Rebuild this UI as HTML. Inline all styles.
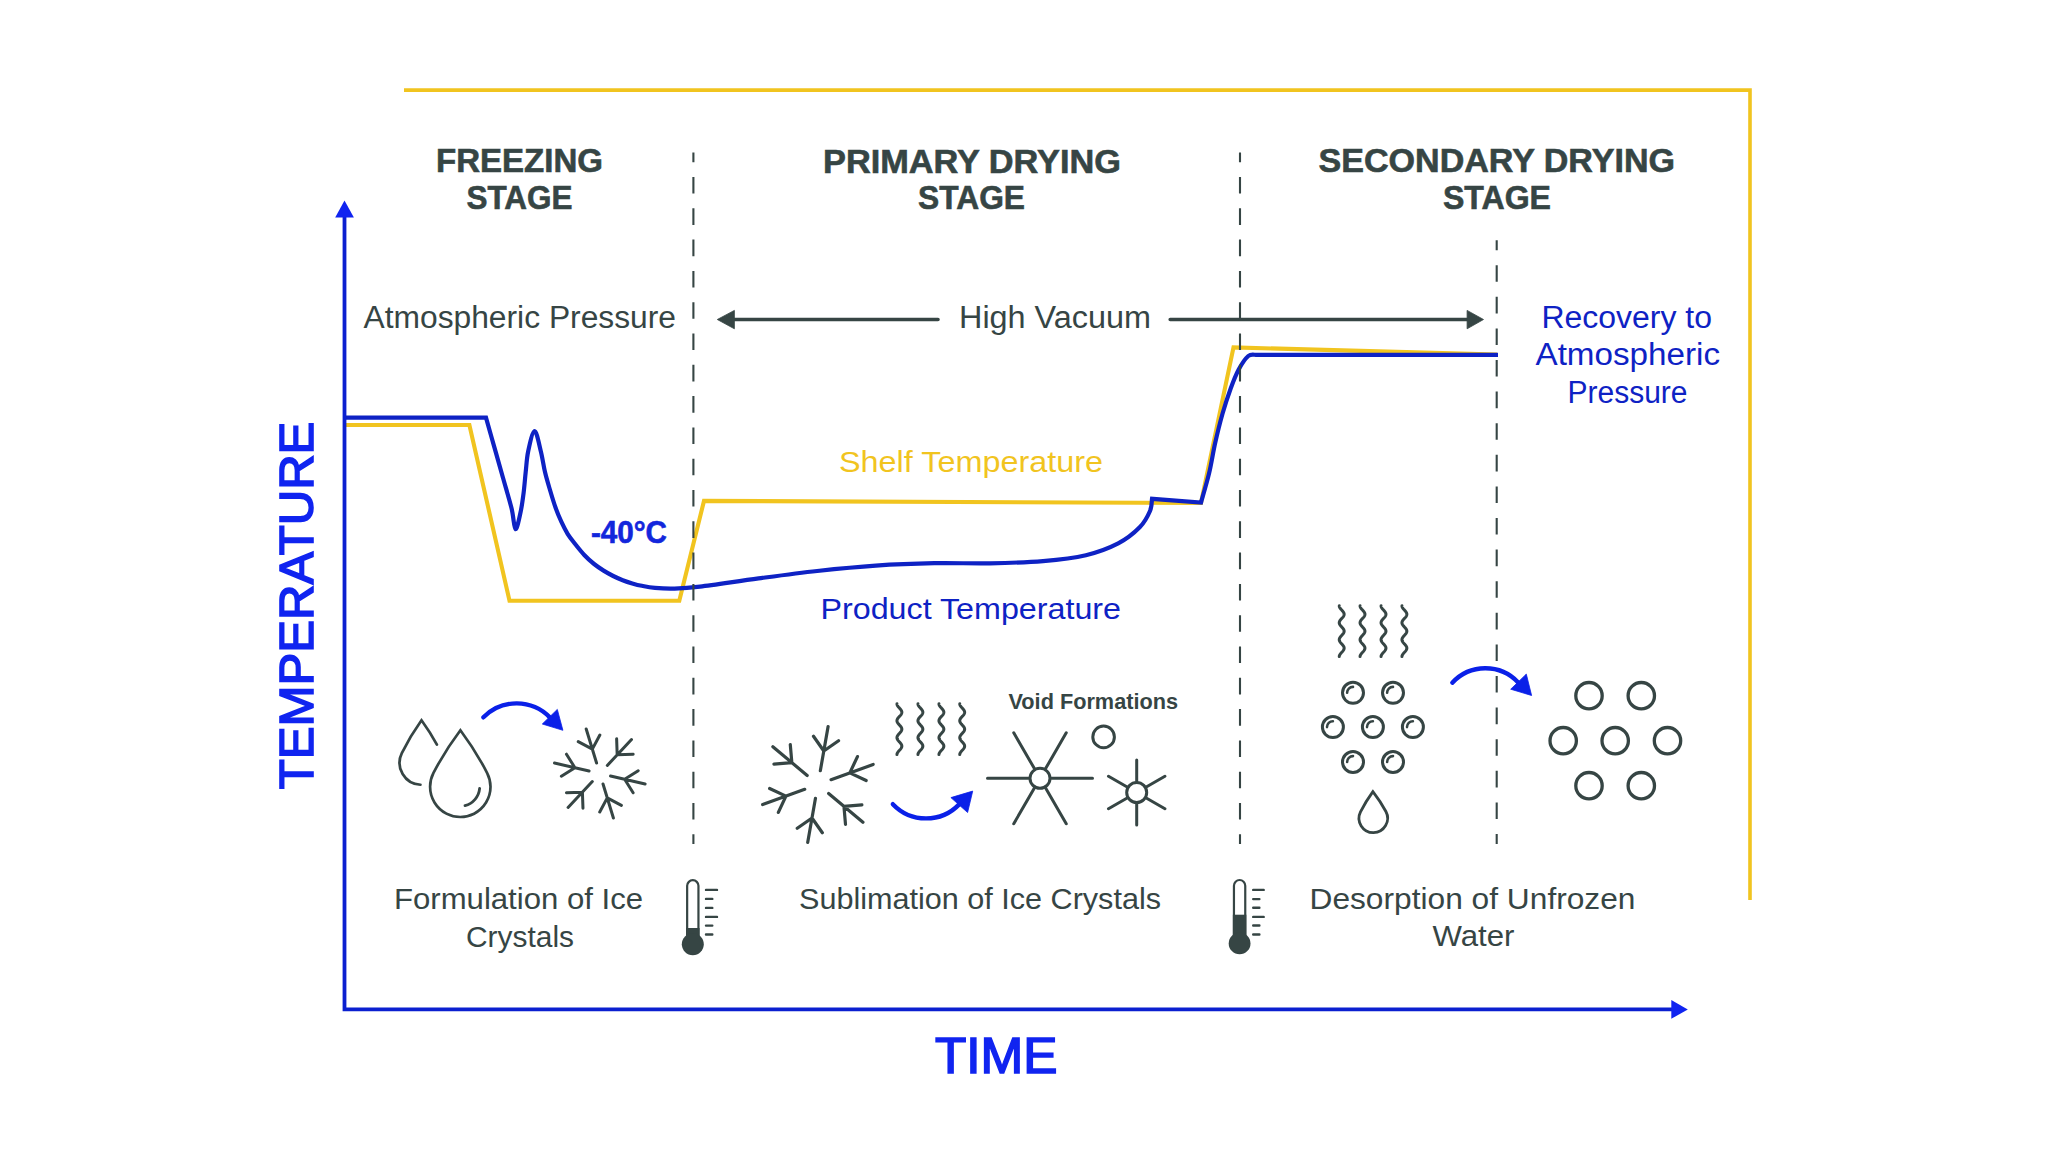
<!DOCTYPE html>
<html><head><meta charset="utf-8"><title>Freeze Drying Stages</title>
<style>html,body{margin:0;padding:0;background:#fff;}svg{display:block;font-family:"Liberation Sans",sans-serif;}</style>
</head><body>
<svg width="2048" height="1152" viewBox="0 0 2048 1152" font-family="Liberation Sans, sans-serif">
<rect width="2048" height="1152" fill="#fff"/>
<path d="M404 90.1H1750V900" stroke="#f1c41f" stroke-width="3.6" fill="none"/><path d="M346 425H469.4L509.5 600.7H679.3L704 500.9L1201 503L1233.5 347.4L1497 354.6" stroke="#f1c41f" stroke-width="4.1" fill="none" stroke-linejoin="miter"/><path d="M344 417.6H486C487.40 422.57 491.58 437.42 494.4 447.4C497.22 457.38 500.03 467.32 502.9 477.5C505.77 487.68 509.50 499.88 511.6 508.5C513.70 517.12 514.00 528.62 515.5 529.2C517.00 529.78 519.25 518.05 520.6 512C521.95 505.95 522.75 499.55 523.6 492.9C524.45 486.25 524.93 479.04 525.7 472.1C526.47 465.16 526.72 458.07 528.2 451.25C529.68 444.43 532.50 431.20 534.6 431.2C536.70 431.20 539.07 444.43 540.8 451.25C542.53 458.07 543.47 465.64 545.0 472.1C546.53 478.56 548.23 484.05 550.0 490C551.77 495.95 553.72 502.52 555.6 507.8C557.48 513.08 559.30 517.37 561.3 521.7C563.30 526.03 565.32 530.12 567.6 533.8C569.88 537.48 572.18 540.23 575 543.8C577.82 547.37 581.32 551.83 584.5 555.2C587.68 558.57 590.92 561.43 594.1 564.0C597.28 566.57 600.42 568.60 603.6 570.6C606.78 572.60 610.02 574.40 613.2 576.0C616.38 577.60 619.52 578.97 622.7 580.2C625.88 581.43 629.12 582.47 632.3 583.4C635.48 584.33 638.02 585.05 641.8 585.8C645.58 586.55 649.68 587.43 655 587.9C660.32 588.37 666.20 588.82 673.7 588.6C681.20 588.38 685.85 588.30 700 586.6C714.15 584.90 739.07 581.00 758.6 578.4C778.13 575.80 797.67 573.13 817.2 571C836.73 568.87 856.27 566.90 875.8 565.6C895.33 564.30 915.37 563.58 934.4 563.2C953.43 562.82 971.90 563.65 990 563.3C1008.10 562.95 1027.02 562.45 1043 561.1C1058.98 559.75 1073.37 558.15 1085.9 555.2C1098.43 552.25 1109.23 548.05 1118.2 543.4C1127.17 538.75 1134.40 532.70 1139.7 527.3C1145.00 521.90 1147.95 515.75 1150 511C1152.05 506.25 1151.67 500.83 1152 498.8L1201 502.6C1202.37 497.63 1206.85 482.68 1209.2 472.8C1211.55 462.92 1212.88 453.13 1215.1 443.3C1217.32 433.47 1219.92 422.90 1222.5 413.8C1225.08 404.70 1227.90 396.08 1230.6 388.7C1233.30 381.32 1235.75 374.95 1238.7 369.5C1241.65 364.05 1245.42 358.45 1248.3 356C1251.18 353.55 1254.72 355.00 1256 354.8H1498" stroke="#0e22c4" stroke-width="4.2" fill="none" stroke-linejoin="miter"/><path d="M693.4 152.50V162.30M693.4 177.00V193.60M693.4 208.30V224.90M693.4 239.60V256.20M693.4 270.90V287.50M693.4 302.20V318.80M693.4 333.50V350.10M693.4 364.80V381.40M693.4 396.10V412.70M693.4 427.40V444.00M693.4 458.70V475.30M693.4 490.00V506.60M693.4 521.30V537.90M693.4 552.60V569.20M693.4 583.90V600.50M693.4 615.20V631.80M693.4 646.50V663.10M693.4 677.80V694.40M693.4 709.10V725.70M693.4 740.40V757.00M693.4 771.70V788.30M693.4 803.00V819.60M693.4 834.30V844.00" stroke="#364544" stroke-width="2.1" fill="none"/><path d="M1240.0 152.50V162.30M1240.0 177.00V193.60M1240.0 208.30V224.90M1240.0 239.60V256.20M1240.0 270.90V287.50M1240.0 302.20V318.80M1240.0 333.50V350.10M1240.0 364.80V381.40M1240.0 396.10V412.70M1240.0 427.40V444.00M1240.0 458.70V475.30M1240.0 490.00V506.60M1240.0 521.30V537.90M1240.0 552.60V569.20M1240.0 583.90V600.50M1240.0 615.20V631.80M1240.0 646.50V663.10M1240.0 677.80V694.40M1240.0 709.10V725.70M1240.0 740.40V757.00M1240.0 771.70V788.30M1240.0 803.00V819.60M1240.0 834.30V844.00" stroke="#364544" stroke-width="2.1" fill="none"/><path d="M1496.7 240.30V250.20M1496.7 265.20V281.80M1496.7 296.80V313.40M1496.7 328.40V345.00M1496.7 360.00V376.60M1496.7 391.60V408.20M1496.7 423.20V439.80M1496.7 454.80V471.40M1496.7 486.40V503.00M1496.7 518.00V534.60M1496.7 549.60V566.20M1496.7 581.20V597.80M1496.7 612.80V629.40M1496.7 644.40V661.00M1496.7 676.00V692.60M1496.7 707.60V724.20M1496.7 739.20V755.80M1496.7 770.80V787.40M1496.7 802.40V819.00M1496.7 834.00V844.00" stroke="#364544" stroke-width="2.1" fill="none"/><path d="M344.5 216V1009.4H1672" stroke="#0b20d0" stroke-width="3.8" fill="none" stroke-linejoin="miter"/><path d="M344.5 200.4L335.2 217.4H353.9Z" fill="#1024f0"/><path d="M1687.8 1009.4L1671.3 1000V1018.8Z" fill="#1024f0"/><path d="M732 319.5H938M1170.2 319.5H1469" stroke="#364544" stroke-width="3.6" fill="none" stroke-linecap="round"/><path d="M717.3 319.5L734.4 310.4V328.8Z" fill="#364544" stroke="#364544" stroke-width="0.8" stroke-linejoin="round"/><path d="M1483.5 319.5L1467.1 310.4V328.8Z" fill="#364544" stroke="#364544" stroke-width="0.8" stroke-linejoin="round"/><path d="M687.15 939.2V885.85A5.65 5.65 0 0 1 698.4499999999999 885.85V939.2" stroke="#364544" stroke-width="2.2" fill="none"/><rect x="686.05" y="928" width="13.5" height="16.200000000000045" fill="#364544"/><circle cx="692.8" cy="944.2" r="11.0" fill="#364544"/><path d="M706 889.9h11M706 898.9h6.3M706 907.9h6.3M706 916.9h11M706 925.6h6.3M706 934.5h6.3" stroke="#364544" stroke-width="2.4" fill="none" stroke-linecap="round"/><path d="M1233.9499999999998 938.4V885.65A5.65 5.65 0 0 1 1245.25 885.65V938.4" stroke="#364544" stroke-width="2.2" fill="none"/><rect x="1232.85" y="914.7" width="13.5" height="28.699999999999932" fill="#364544"/><circle cx="1239.6" cy="943.4" r="10.9" fill="#364544"/><path d="M1253.2 889.9h10.5M1253.2 899.1h6.2M1253.2 907.7h6.2M1253.2 916.9h10.5M1253.2 925.5h6.2M1253.2 934.5h6.2" stroke="#364544" stroke-width="2.4" fill="none" stroke-linecap="round"/><path d="M436.91 744.56Q430.01 731.94 421.5 720.2Q410.22 735.91 401.82 753.17A22.0 22.0 0 0 0 420.45 784.77" stroke="#364544" stroke-width="2.7" fill="none" stroke-linecap="round" stroke-linejoin="miter"/><path d="M460.4 730.2Q475.65 750.55 487.17 773.02A30.2 30.2 0 1 1 433.48 772.93Q445.08 750.50 460.4 730.2Z" stroke="#364544" stroke-width="2.7" fill="none" stroke-linejoin="miter"/><path d="M479.63 788.49A19.4 19.4 0 0 1 464.99 805.62" stroke="#364544" stroke-width="2.8" fill="none" stroke-linecap="round"/><path d="M1372.9 791.6Q1380.27 801.05 1385.90 811.53A14.3 14.3 0 1 1 1360.50 811.91Q1365.82 801.27 1372.9 791.6Z" stroke="#364544" stroke-width="2.8" fill="none" stroke-linejoin="miter"/><path d="M610.52 775.97L645.11 783.96M624.65 779.24L638.22 770.76M624.65 779.24L633.13 792.81M603.02 784.02L613.40 817.97M607.26 797.89L621.38 805.40M607.26 797.89L599.74 812.01M592.30 781.54L568.09 807.51M582.41 792.15L582.97 808.14M582.41 792.15L566.42 792.71M589.08 771.03L554.49 763.04M574.95 767.76L561.38 776.24M574.95 767.76L566.47 754.19M596.58 762.98L586.20 729.03M592.34 749.11L578.22 741.60M592.34 749.11L599.86 734.99M607.30 765.46L631.51 739.49M617.19 754.85L616.63 738.86M617.19 754.85L633.18 754.29" stroke="#364544" stroke-width="3.0" fill="none" stroke-linecap="round"/><path d="M820.33 770.71L828.11 726.59M823.80 751.02L813.48 736.27M823.80 751.02L838.55 740.69M831.06 779.71L873.15 764.39M849.85 772.87L857.46 756.56M849.85 772.87L866.16 780.48M828.62 793.50L862.94 822.30M843.95 806.35L861.88 804.79M843.95 806.35L845.51 824.29M815.47 798.29L807.69 842.41M812.00 817.98L822.32 832.73M812.00 817.98L797.25 828.31M804.74 789.29L762.65 804.61M785.95 796.13L778.34 812.44M785.95 796.13L769.64 788.52M807.18 775.50L772.86 746.70M791.85 762.65L773.92 764.21M791.85 762.65L790.29 744.71" stroke="#364544" stroke-width="3.2" fill="none" stroke-linecap="round"/><path d="M896.95 703.80L896.98 704.22L897.07 704.65L897.22 705.07L897.42 705.49L897.67 705.92L897.96 706.34L898.29 706.76L898.64 707.19L899.02 707.61L899.40 708.03L899.78 708.46L900.16 708.88L900.51 709.30L900.84 709.73L901.13 710.15L901.38 710.57L901.58 711.00L901.73 711.42L901.82 711.84L901.85 712.27L901.82 712.69L901.73 713.11L901.58 713.54L901.38 713.96L901.13 714.38L900.84 714.81L900.51 715.23L900.16 715.65L899.78 716.08L899.40 716.50L899.02 716.92L898.64 717.35L898.29 717.77L897.96 718.19L897.67 718.62L897.42 719.04L897.22 719.46L897.07 719.89L896.98 720.31L896.95 720.73L896.98 721.16L897.07 721.58L897.22 722.00L897.42 722.43L897.67 722.85L897.96 723.27L898.29 723.70L898.64 724.12L899.02 724.54L899.40 724.97L899.78 725.39L900.16 725.81L900.51 726.24L900.84 726.66L901.13 727.08L901.38 727.51L901.58 727.93L901.73 728.35L901.82 728.78L901.85 729.20L901.82 729.62L901.73 730.05L901.58 730.47L901.38 730.89L901.13 731.32L900.84 731.74L900.51 732.16L900.16 732.59L899.78 733.01L899.40 733.43L899.02 733.86L898.64 734.28L898.29 734.70L897.96 735.13L897.67 735.55L897.42 735.97L897.22 736.40L897.07 736.82L896.98 737.24L896.95 737.67L896.98 738.09L897.07 738.51L897.22 738.94L897.42 739.36L897.67 739.78L897.96 740.21L898.29 740.63L898.64 741.05L899.02 741.48L899.40 741.90L899.78 742.32L900.16 742.75L900.51 743.17L900.84 743.59L901.13 744.02L901.38 744.44L901.58 744.86L901.73 745.29L901.82 745.71L901.85 746.13L901.82 746.56L901.73 746.98L901.58 747.40L901.38 747.83L901.13 748.25L900.84 748.67L900.51 749.10L900.16 749.52L899.78 749.94L899.40 750.37L899.02 750.79L898.64 751.21L898.29 751.64L897.96 752.06L897.67 752.48L897.42 752.91L897.22 753.33L897.07 753.75L896.98 754.18L896.95 754.60" stroke="#364544" stroke-width="3.0" fill="none" stroke-linecap="round" stroke-linejoin="round"/><path d="M917.95 703.80L917.98 704.22L918.07 704.65L918.22 705.07L918.42 705.49L918.67 705.92L918.96 706.34L919.29 706.76L919.64 707.19L920.02 707.61L920.40 708.03L920.78 708.46L921.16 708.88L921.51 709.30L921.84 709.73L922.13 710.15L922.38 710.57L922.58 711.00L922.73 711.42L922.82 711.84L922.85 712.27L922.82 712.69L922.73 713.11L922.58 713.54L922.38 713.96L922.13 714.38L921.84 714.81L921.51 715.23L921.16 715.65L920.78 716.08L920.40 716.50L920.02 716.92L919.64 717.35L919.29 717.77L918.96 718.19L918.67 718.62L918.42 719.04L918.22 719.46L918.07 719.89L917.98 720.31L917.95 720.73L917.98 721.16L918.07 721.58L918.22 722.00L918.42 722.43L918.67 722.85L918.96 723.27L919.29 723.70L919.64 724.12L920.02 724.54L920.40 724.97L920.78 725.39L921.16 725.81L921.51 726.24L921.84 726.66L922.13 727.08L922.38 727.51L922.58 727.93L922.73 728.35L922.82 728.78L922.85 729.20L922.82 729.62L922.73 730.05L922.58 730.47L922.38 730.89L922.13 731.32L921.84 731.74L921.51 732.16L921.16 732.59L920.78 733.01L920.40 733.43L920.02 733.86L919.64 734.28L919.29 734.70L918.96 735.13L918.67 735.55L918.42 735.97L918.22 736.40L918.07 736.82L917.98 737.24L917.95 737.67L917.98 738.09L918.07 738.51L918.22 738.94L918.42 739.36L918.67 739.78L918.96 740.21L919.29 740.63L919.64 741.05L920.02 741.48L920.40 741.90L920.78 742.32L921.16 742.75L921.51 743.17L921.84 743.59L922.13 744.02L922.38 744.44L922.58 744.86L922.73 745.29L922.82 745.71L922.85 746.13L922.82 746.56L922.73 746.98L922.58 747.40L922.38 747.83L922.13 748.25L921.84 748.67L921.51 749.10L921.16 749.52L920.78 749.94L920.40 750.37L920.02 750.79L919.64 751.21L919.29 751.64L918.96 752.06L918.67 752.48L918.42 752.91L918.22 753.33L918.07 753.75L917.98 754.18L917.95 754.60" stroke="#364544" stroke-width="3.0" fill="none" stroke-linecap="round" stroke-linejoin="round"/><path d="M938.95 703.80L938.98 704.22L939.07 704.65L939.22 705.07L939.42 705.49L939.67 705.92L939.96 706.34L940.29 706.76L940.64 707.19L941.02 707.61L941.40 708.03L941.78 708.46L942.16 708.88L942.51 709.30L942.84 709.73L943.13 710.15L943.38 710.57L943.58 711.00L943.73 711.42L943.82 711.84L943.85 712.27L943.82 712.69L943.73 713.11L943.58 713.54L943.38 713.96L943.13 714.38L942.84 714.81L942.51 715.23L942.16 715.65L941.78 716.08L941.40 716.50L941.02 716.92L940.64 717.35L940.29 717.77L939.96 718.19L939.67 718.62L939.42 719.04L939.22 719.46L939.07 719.89L938.98 720.31L938.95 720.73L938.98 721.16L939.07 721.58L939.22 722.00L939.42 722.43L939.67 722.85L939.96 723.27L940.29 723.70L940.64 724.12L941.02 724.54L941.40 724.97L941.78 725.39L942.16 725.81L942.51 726.24L942.84 726.66L943.13 727.08L943.38 727.51L943.58 727.93L943.73 728.35L943.82 728.78L943.85 729.20L943.82 729.62L943.73 730.05L943.58 730.47L943.38 730.89L943.13 731.32L942.84 731.74L942.51 732.16L942.16 732.59L941.78 733.01L941.40 733.43L941.02 733.86L940.64 734.28L940.29 734.70L939.96 735.13L939.67 735.55L939.42 735.97L939.22 736.40L939.07 736.82L938.98 737.24L938.95 737.67L938.98 738.09L939.07 738.51L939.22 738.94L939.42 739.36L939.67 739.78L939.96 740.21L940.29 740.63L940.64 741.05L941.02 741.48L941.40 741.90L941.78 742.32L942.16 742.75L942.51 743.17L942.84 743.59L943.13 744.02L943.38 744.44L943.58 744.86L943.73 745.29L943.82 745.71L943.85 746.13L943.82 746.56L943.73 746.98L943.58 747.40L943.38 747.83L943.13 748.25L942.84 748.67L942.51 749.10L942.16 749.52L941.78 749.94L941.40 750.37L941.02 750.79L940.64 751.21L940.29 751.64L939.96 752.06L939.67 752.48L939.42 752.91L939.22 753.33L939.07 753.75L938.98 754.18L938.95 754.60" stroke="#364544" stroke-width="3.0" fill="none" stroke-linecap="round" stroke-linejoin="round"/><path d="M959.75 703.80L959.78 704.22L959.87 704.65L960.02 705.07L960.22 705.49L960.47 705.92L960.76 706.34L961.09 706.76L961.44 707.19L961.82 707.61L962.20 708.03L962.58 708.46L962.96 708.88L963.31 709.30L963.64 709.73L963.93 710.15L964.18 710.57L964.38 711.00L964.53 711.42L964.62 711.84L964.65 712.27L964.62 712.69L964.53 713.11L964.38 713.54L964.18 713.96L963.93 714.38L963.64 714.81L963.31 715.23L962.96 715.65L962.58 716.08L962.20 716.50L961.82 716.92L961.44 717.35L961.09 717.77L960.76 718.19L960.47 718.62L960.22 719.04L960.02 719.46L959.87 719.89L959.78 720.31L959.75 720.73L959.78 721.16L959.87 721.58L960.02 722.00L960.22 722.43L960.47 722.85L960.76 723.27L961.09 723.70L961.44 724.12L961.82 724.54L962.20 724.97L962.58 725.39L962.96 725.81L963.31 726.24L963.64 726.66L963.93 727.08L964.18 727.51L964.38 727.93L964.53 728.35L964.62 728.78L964.65 729.20L964.62 729.62L964.53 730.05L964.38 730.47L964.18 730.89L963.93 731.32L963.64 731.74L963.31 732.16L962.96 732.59L962.58 733.01L962.20 733.43L961.82 733.86L961.44 734.28L961.09 734.70L960.76 735.13L960.47 735.55L960.22 735.97L960.02 736.40L959.87 736.82L959.78 737.24L959.75 737.67L959.78 738.09L959.87 738.51L960.02 738.94L960.22 739.36L960.47 739.78L960.76 740.21L961.09 740.63L961.44 741.05L961.82 741.48L962.20 741.90L962.58 742.32L962.96 742.75L963.31 743.17L963.64 743.59L963.93 744.02L964.18 744.44L964.38 744.86L964.53 745.29L964.62 745.71L964.65 746.13L964.62 746.56L964.53 746.98L964.38 747.40L964.18 747.83L963.93 748.25L963.64 748.67L963.31 749.10L962.96 749.52L962.58 749.94L962.20 750.37L961.82 750.79L961.44 751.21L961.09 751.64L960.76 752.06L960.47 752.48L960.22 752.91L960.02 753.33L959.87 753.75L959.78 754.18L959.75 754.60" stroke="#364544" stroke-width="3.0" fill="none" stroke-linecap="round" stroke-linejoin="round"/><path d="M1339.25 605.80L1339.28 606.22L1339.37 606.65L1339.52 607.07L1339.72 607.49L1339.97 607.92L1340.26 608.34L1340.59 608.76L1340.94 609.19L1341.32 609.61L1341.70 610.03L1342.08 610.46L1342.46 610.88L1342.81 611.30L1343.14 611.73L1343.43 612.15L1343.68 612.57L1343.88 613.00L1344.03 613.42L1344.12 613.84L1344.15 614.27L1344.12 614.69L1344.03 615.11L1343.88 615.54L1343.68 615.96L1343.43 616.38L1343.14 616.81L1342.81 617.23L1342.46 617.65L1342.08 618.08L1341.70 618.50L1341.32 618.92L1340.94 619.35L1340.59 619.77L1340.26 620.19L1339.97 620.62L1339.72 621.04L1339.52 621.46L1339.37 621.89L1339.28 622.31L1339.25 622.73L1339.28 623.16L1339.37 623.58L1339.52 624.00L1339.72 624.43L1339.97 624.85L1340.26 625.27L1340.59 625.70L1340.94 626.12L1341.32 626.54L1341.70 626.97L1342.08 627.39L1342.46 627.81L1342.81 628.24L1343.14 628.66L1343.43 629.08L1343.68 629.51L1343.88 629.93L1344.03 630.35L1344.12 630.78L1344.15 631.20L1344.12 631.62L1344.03 632.05L1343.88 632.47L1343.68 632.89L1343.43 633.32L1343.14 633.74L1342.81 634.16L1342.46 634.59L1342.08 635.01L1341.70 635.43L1341.32 635.86L1340.94 636.28L1340.59 636.70L1340.26 637.13L1339.97 637.55L1339.72 637.97L1339.52 638.40L1339.37 638.82L1339.28 639.24L1339.25 639.67L1339.28 640.09L1339.37 640.51L1339.52 640.94L1339.72 641.36L1339.97 641.78L1340.26 642.21L1340.59 642.63L1340.94 643.05L1341.32 643.48L1341.70 643.90L1342.08 644.32L1342.46 644.75L1342.81 645.17L1343.14 645.59L1343.43 646.02L1343.68 646.44L1343.88 646.86L1344.03 647.29L1344.12 647.71L1344.15 648.13L1344.12 648.56L1344.03 648.98L1343.88 649.40L1343.68 649.83L1343.43 650.25L1343.14 650.67L1342.81 651.10L1342.46 651.52L1342.08 651.94L1341.70 652.37L1341.32 652.79L1340.94 653.21L1340.59 653.64L1340.26 654.06L1339.97 654.48L1339.72 654.91L1339.52 655.33L1339.37 655.75L1339.28 656.18L1339.25 656.60" stroke="#364544" stroke-width="3.0" fill="none" stroke-linecap="round" stroke-linejoin="round"/><path d="M1360.05 605.80L1360.08 606.22L1360.17 606.65L1360.32 607.07L1360.52 607.49L1360.77 607.92L1361.06 608.34L1361.39 608.76L1361.74 609.19L1362.12 609.61L1362.50 610.03L1362.88 610.46L1363.26 610.88L1363.61 611.30L1363.94 611.73L1364.23 612.15L1364.48 612.57L1364.68 613.00L1364.83 613.42L1364.92 613.84L1364.95 614.27L1364.92 614.69L1364.83 615.11L1364.68 615.54L1364.48 615.96L1364.23 616.38L1363.94 616.81L1363.61 617.23L1363.26 617.65L1362.88 618.08L1362.50 618.50L1362.12 618.92L1361.74 619.35L1361.39 619.77L1361.06 620.19L1360.77 620.62L1360.52 621.04L1360.32 621.46L1360.17 621.89L1360.08 622.31L1360.05 622.73L1360.08 623.16L1360.17 623.58L1360.32 624.00L1360.52 624.43L1360.77 624.85L1361.06 625.27L1361.39 625.70L1361.74 626.12L1362.12 626.54L1362.50 626.97L1362.88 627.39L1363.26 627.81L1363.61 628.24L1363.94 628.66L1364.23 629.08L1364.48 629.51L1364.68 629.93L1364.83 630.35L1364.92 630.78L1364.95 631.20L1364.92 631.62L1364.83 632.05L1364.68 632.47L1364.48 632.89L1364.23 633.32L1363.94 633.74L1363.61 634.16L1363.26 634.59L1362.88 635.01L1362.50 635.43L1362.12 635.86L1361.74 636.28L1361.39 636.70L1361.06 637.13L1360.77 637.55L1360.52 637.97L1360.32 638.40L1360.17 638.82L1360.08 639.24L1360.05 639.67L1360.08 640.09L1360.17 640.51L1360.32 640.94L1360.52 641.36L1360.77 641.78L1361.06 642.21L1361.39 642.63L1361.74 643.05L1362.12 643.48L1362.50 643.90L1362.88 644.32L1363.26 644.75L1363.61 645.17L1363.94 645.59L1364.23 646.02L1364.48 646.44L1364.68 646.86L1364.83 647.29L1364.92 647.71L1364.95 648.13L1364.92 648.56L1364.83 648.98L1364.68 649.40L1364.48 649.83L1364.23 650.25L1363.94 650.67L1363.61 651.10L1363.26 651.52L1362.88 651.94L1362.50 652.37L1362.12 652.79L1361.74 653.21L1361.39 653.64L1361.06 654.06L1360.77 654.48L1360.52 654.91L1360.32 655.33L1360.17 655.75L1360.08 656.18L1360.05 656.60" stroke="#364544" stroke-width="3.0" fill="none" stroke-linecap="round" stroke-linejoin="round"/><path d="M1381.05 605.80L1381.08 606.22L1381.17 606.65L1381.32 607.07L1381.52 607.49L1381.77 607.92L1382.06 608.34L1382.39 608.76L1382.74 609.19L1383.12 609.61L1383.50 610.03L1383.88 610.46L1384.26 610.88L1384.61 611.30L1384.94 611.73L1385.23 612.15L1385.48 612.57L1385.68 613.00L1385.83 613.42L1385.92 613.84L1385.95 614.27L1385.92 614.69L1385.83 615.11L1385.68 615.54L1385.48 615.96L1385.23 616.38L1384.94 616.81L1384.61 617.23L1384.26 617.65L1383.88 618.08L1383.50 618.50L1383.12 618.92L1382.74 619.35L1382.39 619.77L1382.06 620.19L1381.77 620.62L1381.52 621.04L1381.32 621.46L1381.17 621.89L1381.08 622.31L1381.05 622.73L1381.08 623.16L1381.17 623.58L1381.32 624.00L1381.52 624.43L1381.77 624.85L1382.06 625.27L1382.39 625.70L1382.74 626.12L1383.12 626.54L1383.50 626.97L1383.88 627.39L1384.26 627.81L1384.61 628.24L1384.94 628.66L1385.23 629.08L1385.48 629.51L1385.68 629.93L1385.83 630.35L1385.92 630.78L1385.95 631.20L1385.92 631.62L1385.83 632.05L1385.68 632.47L1385.48 632.89L1385.23 633.32L1384.94 633.74L1384.61 634.16L1384.26 634.59L1383.88 635.01L1383.50 635.43L1383.12 635.86L1382.74 636.28L1382.39 636.70L1382.06 637.13L1381.77 637.55L1381.52 637.97L1381.32 638.40L1381.17 638.82L1381.08 639.24L1381.05 639.67L1381.08 640.09L1381.17 640.51L1381.32 640.94L1381.52 641.36L1381.77 641.78L1382.06 642.21L1382.39 642.63L1382.74 643.05L1383.12 643.48L1383.50 643.90L1383.88 644.32L1384.26 644.75L1384.61 645.17L1384.94 645.59L1385.23 646.02L1385.48 646.44L1385.68 646.86L1385.83 647.29L1385.92 647.71L1385.95 648.13L1385.92 648.56L1385.83 648.98L1385.68 649.40L1385.48 649.83L1385.23 650.25L1384.94 650.67L1384.61 651.10L1384.26 651.52L1383.88 651.94L1383.50 652.37L1383.12 652.79L1382.74 653.21L1382.39 653.64L1382.06 654.06L1381.77 654.48L1381.52 654.91L1381.32 655.33L1381.17 655.75L1381.08 656.18L1381.05 656.60" stroke="#364544" stroke-width="3.0" fill="none" stroke-linecap="round" stroke-linejoin="round"/><path d="M1401.95 605.80L1401.98 606.22L1402.07 606.65L1402.22 607.07L1402.42 607.49L1402.67 607.92L1402.96 608.34L1403.29 608.76L1403.64 609.19L1404.02 609.61L1404.40 610.03L1404.78 610.46L1405.16 610.88L1405.51 611.30L1405.84 611.73L1406.13 612.15L1406.38 612.57L1406.58 613.00L1406.73 613.42L1406.82 613.84L1406.85 614.27L1406.82 614.69L1406.73 615.11L1406.58 615.54L1406.38 615.96L1406.13 616.38L1405.84 616.81L1405.51 617.23L1405.16 617.65L1404.78 618.08L1404.40 618.50L1404.02 618.92L1403.64 619.35L1403.29 619.77L1402.96 620.19L1402.67 620.62L1402.42 621.04L1402.22 621.46L1402.07 621.89L1401.98 622.31L1401.95 622.73L1401.98 623.16L1402.07 623.58L1402.22 624.00L1402.42 624.43L1402.67 624.85L1402.96 625.27L1403.29 625.70L1403.64 626.12L1404.02 626.54L1404.40 626.97L1404.78 627.39L1405.16 627.81L1405.51 628.24L1405.84 628.66L1406.13 629.08L1406.38 629.51L1406.58 629.93L1406.73 630.35L1406.82 630.78L1406.85 631.20L1406.82 631.62L1406.73 632.05L1406.58 632.47L1406.38 632.89L1406.13 633.32L1405.84 633.74L1405.51 634.16L1405.16 634.59L1404.78 635.01L1404.40 635.43L1404.02 635.86L1403.64 636.28L1403.29 636.70L1402.96 637.13L1402.67 637.55L1402.42 637.97L1402.22 638.40L1402.07 638.82L1401.98 639.24L1401.95 639.67L1401.98 640.09L1402.07 640.51L1402.22 640.94L1402.42 641.36L1402.67 641.78L1402.96 642.21L1403.29 642.63L1403.64 643.05L1404.02 643.48L1404.40 643.90L1404.78 644.32L1405.16 644.75L1405.51 645.17L1405.84 645.59L1406.13 646.02L1406.38 646.44L1406.58 646.86L1406.73 647.29L1406.82 647.71L1406.85 648.13L1406.82 648.56L1406.73 648.98L1406.58 649.40L1406.38 649.83L1406.13 650.25L1405.84 650.67L1405.51 651.10L1405.16 651.52L1404.78 651.94L1404.40 652.37L1404.02 652.79L1403.64 653.21L1403.29 653.64L1402.96 654.06L1402.67 654.48L1402.42 654.91L1402.22 655.33L1402.07 655.75L1401.98 656.18L1401.95 656.60" stroke="#364544" stroke-width="3.0" fill="none" stroke-linecap="round" stroke-linejoin="round"/><circle cx="1040" cy="778.3" r="10" stroke="#364544" stroke-width="3.0" fill="none"/><path d="M1051.50 778.30L1092.50 778.30M1045.75 788.26L1066.25 823.77M1034.25 788.26L1013.75 823.77M1028.50 778.30L987.50 778.30M1034.25 768.34L1013.75 732.83M1045.75 768.34L1066.25 732.83" stroke="#364544" stroke-width="3.0" fill="none" stroke-linecap="round"/><circle cx="1103.6" cy="736.9" r="10.8" stroke="#364544" stroke-width="3.0" fill="none"/><circle cx="1136.7" cy="792.5" r="10" stroke="#364544" stroke-width="3.0" fill="none"/><path d="M1146.66 798.25L1164.93 808.80M1136.70 804.00L1136.70 825.10M1126.74 798.25L1108.47 808.80M1126.74 786.75L1108.47 776.20M1136.70 781.00L1136.70 759.90M1146.66 786.75L1164.93 776.20" stroke="#364544" stroke-width="3.0" fill="none" stroke-linecap="round"/><circle cx="1353" cy="692.8" r="10.5" stroke="#364544" stroke-width="3.0" fill="none"/><path d="M1347.10 692.80A5.9 5.9 0 0 1 1353.00 686.90" stroke="#364544" stroke-width="2.6" fill="none" stroke-linecap="round"/><circle cx="1393" cy="692.8" r="10.5" stroke="#364544" stroke-width="3.0" fill="none"/><path d="M1387.10 692.80A5.9 5.9 0 0 1 1393.00 686.90" stroke="#364544" stroke-width="2.6" fill="none" stroke-linecap="round"/><circle cx="1332.9" cy="727.1" r="10.5" stroke="#364544" stroke-width="3.0" fill="none"/><path d="M1327.00 727.10A5.9 5.9 0 0 1 1332.90 721.20" stroke="#364544" stroke-width="2.6" fill="none" stroke-linecap="round"/><circle cx="1372.9" cy="727.1" r="10.5" stroke="#364544" stroke-width="3.0" fill="none"/><path d="M1367.00 727.10A5.9 5.9 0 0 1 1372.90 721.20" stroke="#364544" stroke-width="2.6" fill="none" stroke-linecap="round"/><circle cx="1412.9" cy="727.1" r="10.5" stroke="#364544" stroke-width="3.0" fill="none"/><path d="M1407.00 727.10A5.9 5.9 0 0 1 1412.90 721.20" stroke="#364544" stroke-width="2.6" fill="none" stroke-linecap="round"/><circle cx="1353" cy="762" r="10.5" stroke="#364544" stroke-width="3.0" fill="none"/><path d="M1347.10 762.00A5.9 5.9 0 0 1 1353.00 756.10" stroke="#364544" stroke-width="2.6" fill="none" stroke-linecap="round"/><circle cx="1393" cy="762" r="10.5" stroke="#364544" stroke-width="3.0" fill="none"/><path d="M1387.10 762.00A5.9 5.9 0 0 1 1393.00 756.10" stroke="#364544" stroke-width="2.6" fill="none" stroke-linecap="round"/><circle cx="1589" cy="695.7" r="13.2" stroke="#364544" stroke-width="3.3" fill="none"/><circle cx="1641.3" cy="695.7" r="13.2" stroke="#364544" stroke-width="3.3" fill="none"/><circle cx="1563.2" cy="740.7" r="13.2" stroke="#364544" stroke-width="3.3" fill="none"/><circle cx="1615.2" cy="740.7" r="13.2" stroke="#364544" stroke-width="3.3" fill="none"/><circle cx="1667.5" cy="740.7" r="13.2" stroke="#364544" stroke-width="3.3" fill="none"/><circle cx="1589" cy="785.7" r="13.2" stroke="#364544" stroke-width="3.3" fill="none"/><circle cx="1641.3" cy="785.7" r="13.2" stroke="#364544" stroke-width="3.3" fill="none"/><path d="M483.43 717.31A46.5 46.5 0 0 1 550.05 717.60" stroke="#0a20e8" stroke-width="4.4" fill="none" stroke-linecap="round"/><path d="M542.3 724.0L557.3 709.4L562.9 730.3Z" fill="#0a20e8" stroke="#0a20e8" stroke-width="0.8" stroke-linejoin="round"/><path d="M892.84 804.18A46.0 46.0 0 0 0 959.19 804.35" stroke="#0a20e8" stroke-width="4.4" fill="none" stroke-linecap="round"/><path d="M950.9 797.6L967.6 812.5L972.7 791.1Z" fill="#0a20e8" stroke="#0a20e8" stroke-width="0.8" stroke-linejoin="round"/><path d="M1452.33 682.68A45.0 45.0 0 0 1 1518.20 682.40" stroke="#0a20e8" stroke-width="4.4" fill="none" stroke-linecap="round"/><path d="M1510.7 689.2L1526.3 674.1L1531.6 695.5Z" fill="#0a20e8" stroke="#0a20e8" stroke-width="0.8" stroke-linejoin="round"/>
<text x="436.00" y="172.4" font-size="32.7" font-weight="bold" fill="#364544" stroke="#364544" stroke-width="0.6" textLength="167.00" lengthAdjust="spacingAndGlyphs">FREEZING</text><text x="466.50" y="208.8" font-size="32.7" font-weight="bold" fill="#364544" stroke="#364544" stroke-width="0.6" textLength="106.00" lengthAdjust="spacingAndGlyphs">STAGE</text><text x="823.00" y="172.5" font-size="32.7" font-weight="bold" fill="#364544" stroke="#364544" stroke-width="0.6" textLength="298.00" lengthAdjust="spacingAndGlyphs">PRIMARY DRYING</text><text x="918.00" y="208.8" font-size="32.7" font-weight="bold" fill="#364544" stroke="#364544" stroke-width="0.6" textLength="107.00" lengthAdjust="spacingAndGlyphs">STAGE</text><text x="1318.50" y="172.2" font-size="32.7" font-weight="bold" fill="#364544" stroke="#364544" stroke-width="0.6" textLength="356.50" lengthAdjust="spacingAndGlyphs">SECONDARY DRYING</text><text x="1443.00" y="208.5" font-size="32.7" font-weight="bold" fill="#364544" stroke="#364544" stroke-width="0.6" textLength="108.00" lengthAdjust="spacingAndGlyphs">STAGE</text><text x="363.50" y="327.7" font-size="31" font-weight="normal" fill="#364544" textLength="312.50" lengthAdjust="spacingAndGlyphs">Atmospheric Pressure</text><text x="959.00" y="327.8" font-size="31" font-weight="normal" fill="#364544" textLength="192.00" lengthAdjust="spacingAndGlyphs">High Vacuum</text><text x="1541.50" y="327.8" font-size="31" font-weight="normal" fill="#0e22c4" textLength="170.50" lengthAdjust="spacingAndGlyphs">Recovery to</text><text x="1535.50" y="365.3" font-size="31" font-weight="normal" fill="#0e22c4" textLength="184.50" lengthAdjust="spacingAndGlyphs">Atmospheric</text><text x="1567.50" y="402.8" font-size="31" font-weight="normal" fill="#0e22c4" textLength="120.00" lengthAdjust="spacingAndGlyphs">Pressure</text><text x="839.00" y="471.5" font-size="30" font-weight="normal" fill="#f1c41f" textLength="264.00" lengthAdjust="spacingAndGlyphs">Shelf Temperature</text><text x="591.00" y="542.9" font-size="30.5" font-weight="bold" fill="#1226dc" stroke="#1226dc" stroke-width="0.6" textLength="76.00" lengthAdjust="spacingAndGlyphs">-40°C</text><text x="820.50" y="618.6" font-size="30" font-weight="normal" fill="#0e22c4" textLength="300.50" lengthAdjust="spacingAndGlyphs">Product Temperature</text><text x="1008.50" y="709.2" font-size="21.3" font-weight="bold" fill="#364544" textLength="169.50" lengthAdjust="spacingAndGlyphs">Void Formations</text><text x="394.00" y="909.3" font-size="30.3" font-weight="normal" fill="#364544" textLength="249.00" lengthAdjust="spacingAndGlyphs">Formulation of Ice</text><text x="466.00" y="946.9" font-size="30.3" font-weight="normal" fill="#364544" textLength="108.00" lengthAdjust="spacingAndGlyphs">Crystals</text><text x="799.00" y="909.3" font-size="30.3" font-weight="normal" fill="#364544" textLength="362.00" lengthAdjust="spacingAndGlyphs">Sublimation of Ice Crystals</text><text x="1309.50" y="909.2" font-size="30.3" font-weight="normal" fill="#364544" textLength="326.00" lengthAdjust="spacingAndGlyphs">Desorption of Unfrozen</text><text x="1432.50" y="946.4" font-size="30.3" font-weight="normal" fill="#364544" textLength="82.00" lengthAdjust="spacingAndGlyphs">Water</text><text x="935.00" y="1072.5" font-size="49.2" font-weight="normal" fill="#1024f0" stroke="#1024f0" stroke-width="1.6" stroke-linejoin="miter" textLength="122.50" lengthAdjust="spacingAndGlyphs">TIME</text><text transform="translate(313.0 789.2) rotate(-90)" x="0" y="0" font-size="48.8" font-weight="normal" fill="#1024f0" stroke="#1024f0" stroke-width="1.6" textLength="367.6" lengthAdjust="spacingAndGlyphs">TEMPERATURE</text>
</svg>
</body></html>
